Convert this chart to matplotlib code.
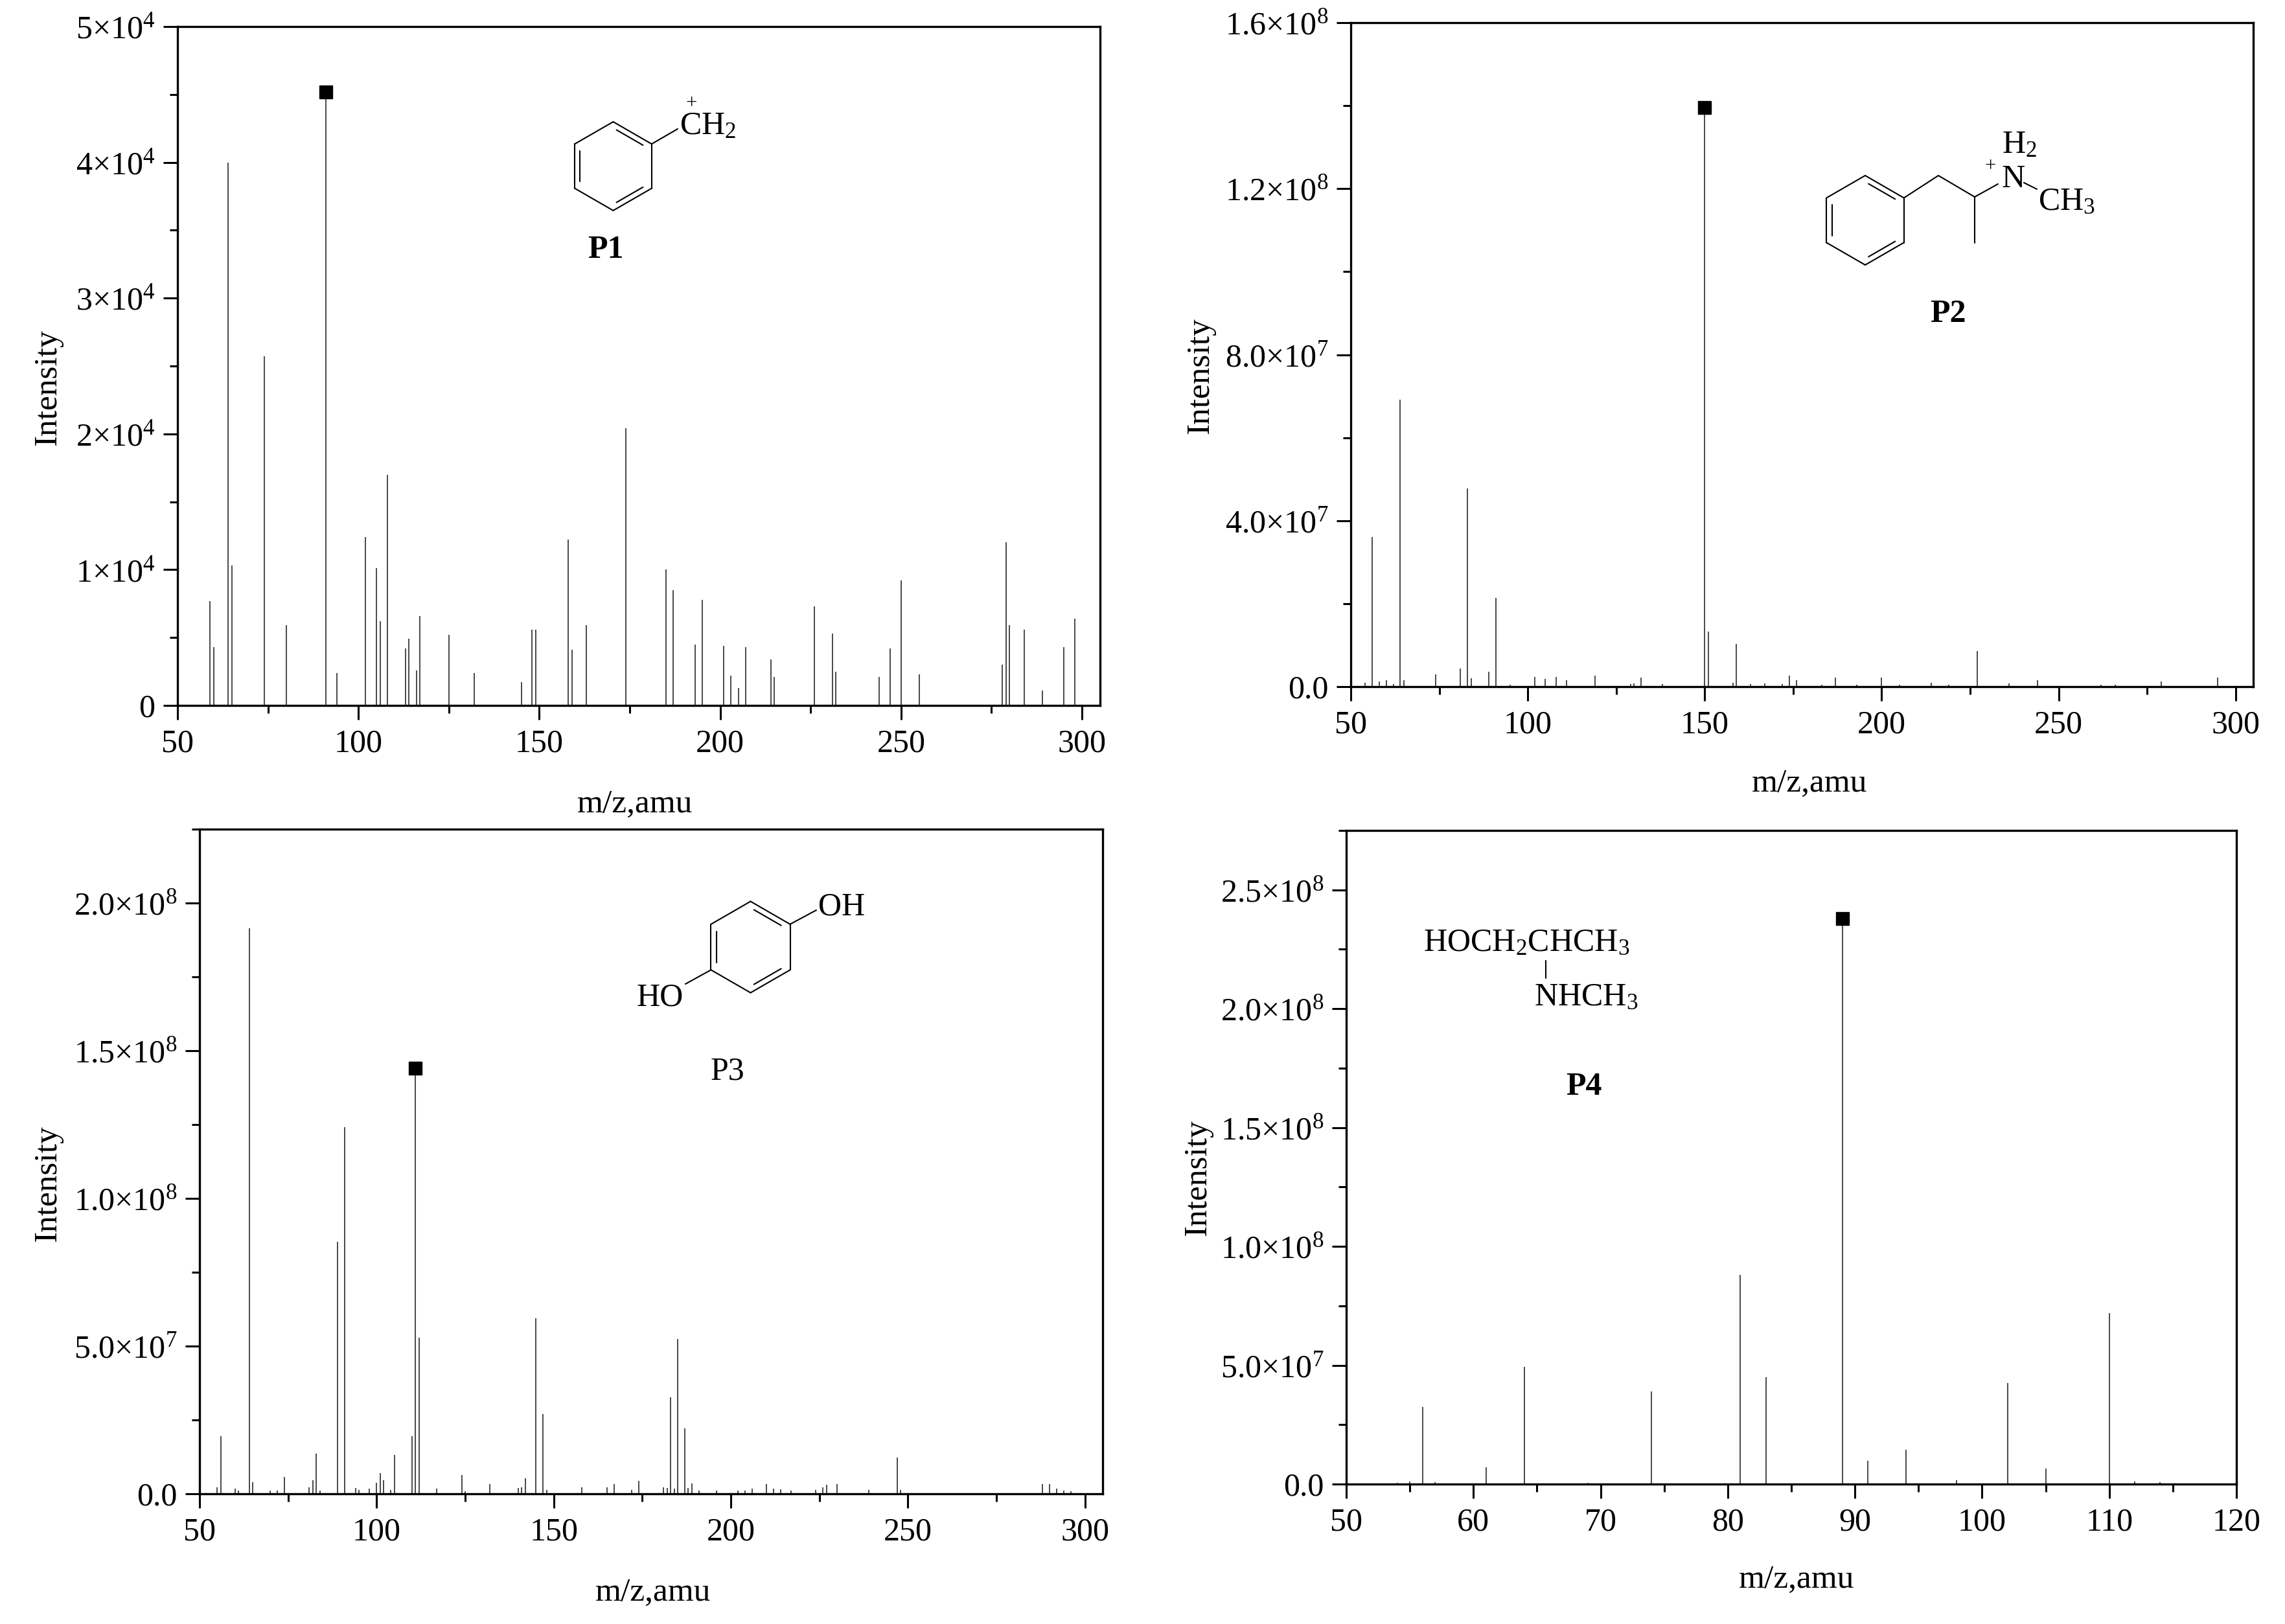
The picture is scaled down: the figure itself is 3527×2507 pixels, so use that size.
import matplotlib
matplotlib.use('Agg')
import matplotlib.pyplot as plt
import numpy as np
from matplotlib.ticker import MultipleLocator, FuncFormatter

plt.rcParams['font.family'] = ['Liberation Serif', 'DejaVu Serif']
plt.rcParams['mathtext.fontset'] = 'custom'
plt.rcParams['mathtext.rm'] = 'Liberation Serif'
plt.rcParams['mathtext.it'] = 'Liberation Serif:italic'
plt.rcParams['mathtext.bf'] = 'Liberation Serif:bold'

# ---- data (m/z, intensity) ----
mz1 = [59, 60, 64, 65, 74, 80, 91, 94, 102, 105,
       106, 108, 113, 114, 116, 117, 125, 132, 145, 148,
       149, 158, 159, 163, 174, 185, 187, 193, 195, 201,
       203, 205, 207, 214, 215, 226, 231, 232, 244, 247,
       250, 255, 278, 279, 280, 284, 289, 295, 298]
int1 = [7.7e3, 4.3e3, 4.0e4, 1.03e4, 2.57e4, 5.9e3, 4.52e4, 2.4e3, 1.24e4, 1.01e4,
        6.2e3, 1.70e4, 4.2e3, 4.9e3, 2.6e3, 6.6e3, 5.2e3, 2.4e3, 1.7e3, 5.6e3,
        5.6e3, 1.22e4, 4.1e3, 5.9e3, 2.04e4, 1.0e4, 8.5e3, 4.5e3, 7.8e3, 4.4e3,
        2.2e3, 1.3e3, 4.3e3, 3.4e3, 2.1e3, 7.3e3, 5.3e3, 2.5e3, 2.1e3, 4.2e3,
        9.2e3, 2.3e3, 3.0e3, 1.2e4, 5.9e3, 5.6e3, 1.1e3, 4.3e3, 6.4e3]

mz2 = [54, 56, 58, 60, 62, 64, 65, 74, 81, 83,
       84, 89, 91, 95, 102, 105, 108, 111, 119, 129,
       130, 132, 138, 150, 151, 158, 159, 163, 167, 172,
       174, 176, 183, 187, 193, 200, 205, 214, 219, 227,
       236, 244, 262, 266, 279, 295]
int2 = [1.0e6, 3.61e7, 1.2e6, 1.5e6, 0.6e6, 6.91e7, 1.5e6, 2.9e6, 4.4e6, 4.78e7,
        2.1e6, 3.6e6, 2.14e7, 0.5e6, 2.4e6, 1.9e6, 2.4e6, 1.5e6, 2.7e6, 0.6e6,
        0.8e6, 2.2e6, 0.6e6, 1.396e8, 1.33e7, 1.0e6, 1.03e7, 0.6e6, 0.8e6, 0.7e6,
        2.7e6, 1.6e6, 0.5e6, 2.2e6, 0.5e6, 2.2e6, 0.5e6, 1.0e6, 0.5e6, 8.6e6,
        0.8e6, 1.6e6, 0.4e6, 0.4e6, 1.2e6, 2.2e6]

mz3 = [55, 56, 60, 61, 64, 65, 70, 72, 74, 81,
       82, 83, 84, 89, 91, 94, 95, 98, 100, 101,
       102, 104, 105, 110, 111, 112, 117, 124, 125, 132,
       140, 141, 142, 145, 147, 148, 158, 165, 167, 172,
       174, 181, 182, 183, 184, 185, 187, 188, 189, 191,
       196, 202, 204, 206, 210, 212, 214, 217, 224, 226,
       227, 230, 239, 247, 248, 288, 290, 292, 294, 296]
int3 = [2.3e6, 1.95e7, 1.8e6, 1.0e6, 1.915e8, 3.9e6, 1.0e6, 1.2e6, 5.8e6, 2.3e6,
        4.6e6, 1.35e7, 1.0e6, 8.53e7, 1.242e8, 2.0e6, 1.4e6, 1.8e6, 3.7e6, 7.0e6,
        4.7e6, 1.4e6, 1.32e7, 1.95e7, 1.44e8, 5.28e7, 1.8e6, 6.3e6, 0.9e6, 3.2e6,
        1.9e6, 2.1e6, 5.3e6, 5.95e7, 2.69e7, 1.4e6, 2.1e6, 2.3e6, 3.2e6, 1.4e6,
        4.4e6, 2.3e6, 1.9e6, 3.27e7, 1.7e6, 5.24e7, 2.22e7, 1.9e6, 3.5e6, 1.1e6,
        1.1e6, 1.1e6, 1.1e6, 1.7e6, 3.3e6, 1.7e6, 1.6e6, 1.1e6, 1.4e6, 2.1e6,
        3.0e6, 3.3e6, 1.4e6, 1.23e7, 1.4e6, 3.3e6, 3.3e6, 1.8e6, 1.1e6, 0.9e6]

mz4 = [54, 55, 56, 57, 61, 64, 69, 74, 81, 83,
       89, 91, 94, 98, 102, 105, 110, 112, 114]
int4 = [0.6e6, 1.0e6, 3.24e7, 0.8e6, 7.2e6, 4.94e7, 0.6e6, 3.89e7, 8.79e7, 4.51e7,
        2.378e8, 9.8e6, 1.44e7, 1.7e6, 4.24e7, 6.6e6, 7.2e7, 1.1e6, 0.7e6]

# m/z of the peak flagged with a square in each panel
marked = [91, 150, 111, 89]

xlims = [(50, 305), (50, 305), (50, 305), (50, 120)]
ylims = [(0, 5e4), (0, 1.6e8), (0, 2.25e8), (0, 2.75e8)]
xsteps = [(50, 25), (50, 25), (50, 25), (10, 5)]
ysteps = [(1e4, 5e3), (4e7, 2e7), (5e7, 2.5e7), (5e7, 2.5e7)]

W, H = 3527, 2507
fig = plt.figure(figsize=(W / 100, H / 100), dpi=100)

# axes boxes in pixels: left, right, top, bottom
boxes = [(274, 1698, 41, 1089), (2085, 3478, 35, 1060),
         (308, 1702, 1280, 2306), (2078, 3452, 1282, 2291)]


def fmt_int(v, pos):
    if abs(v) < 1e-6:
        return '0'
    if v < 0:
        return ''
    e = int(np.floor(np.log10(v) + 1e-9))
    return '%d×10$^{%d}$' % (round(v / 10 ** e), e)


def fmt_dec(v, pos):
    if abs(v) < 1e-6:
        return '0.0'
    if v < 0:
        return ''
    e = int(np.floor(np.log10(v) + 1e-9))
    return '%.1f×10$^{%d}$' % (v / 10 ** e, e)


formatters = [fmt_int, fmt_dec, fmt_dec, fmt_dec]
spectra = [(mz1, int1), (mz2, int2), (mz3, int3), (mz4, int4)]

for i, (l, r, t, b) in enumerate(boxes):
    ax = fig.add_axes([l / W, 1 - b / H, (r - l) / W, (b - t) / H])
    mz, inten = spectra[i]
    ax.vlines(mz, 0, inten, colors='#3a3a3a', linewidth=1.3)
    k = mz.index(marked[i])
    ax.plot([mz[k]], [inten[k]], 's', color='black', markersize=14)
    ax.set_xlim(*xlims[i])
    ax.set_ylim(*ylims[i])
    ax.xaxis.set_major_locator(MultipleLocator(xsteps[i][0]))
    ax.xaxis.set_minor_locator(MultipleLocator(xsteps[i][1]))
    ax.yaxis.set_major_locator(MultipleLocator(ysteps[i][0]))
    ax.yaxis.set_minor_locator(MultipleLocator(ysteps[i][1]))
    ax.yaxis.set_major_formatter(FuncFormatter(formatters[i]))
    for s in ax.spines.values():
        s.set_linewidth(2.4)
    ax.tick_params(which='both', direction='out', width=2.2, top=False, right=False)
    ax.tick_params(which='major', length=16, labelsize=36)
    ax.tick_params(which='minor', length=8.5)
    ax.tick_params(axis='x', which='major', pad=10)
    ax.tick_params(axis='y', which='major', pad=9)

# overlay in pixel coordinates for labels and structure drawings
ov = fig.add_axes([0, 0, 1, 1])
ov.set_xlim(0, W)
ov.set_ylim(H, 0)
ov.axis('off')

LW = 1.5
FS = 36


def bond(p, q):
    ov.plot([p[0], q[0]], [p[1], q[1]], color='black', lw=LW, solid_capstyle='round')


def benzene(cx, cy, R):
    ang = np.radians([90, 30, -30, -90, -150, 150])
    pts = [(cx + R * np.cos(a), cy - R * np.sin(a)) for a in ang]
    for j in range(6):
        p, q = pts[j], pts[(j + 1) % 6]
        bond(p, q)
        if j % 2 == 0:
            # inner line of the double bond
            p2 = (cx + (p[0] - cx) * 0.86, cy + (p[1] - cy) * 0.86)
            q2 = (cx + (q[0] - cx) * 0.86, cy + (q[1] - cy) * 0.86)
            sp = (p2[0] + (q2[0] - p2[0]) * 0.1, p2[1] + (q2[1] - p2[1]) * 0.1)
            sq = (q2[0] - (q2[0] - p2[0]) * 0.1, q2[1] - (q2[1] - p2[1]) * 0.1)
            bond(sp, sq)
    return pts


def txt(x, y, s, ha='left', va='baseline', size=FS, **kw):
    ov.text(x, y, s, ha=ha, va=va, fontsize=size, color='black', **kw)


# P1: benzyl cation
pts = benzene(946.5, 256.5, 68.5)
bond(pts[1], (1046, 199))
txt(1049, 207, 'CH$_2$')
txt(1067, 160, '+', ha='center', va='center', size=22)
txt(935, 386, 'P1', ha='center', va='center', weight='bold')

# P2
pts = benzene(2879, 340, 69)
c1 = (2992, 271)
c2 = (3048, 304)
bond(pts[1], c1)
bond(c1, c2)
bond(c2, (3048, 375))
bond(c2, (3084, 284))
txt(3089, 289, 'N')
txt(3072, 257, '+', ha='center', va='center', size=22)
txt(3090, 236, 'H$_2$')
bond((3124, 282), (3144, 292))
txt(3146, 324, 'CH$_3$')
txt(3007, 485, 'P2', ha='center', va='center', weight='bold')

# P3: hydroquinone
pts = benzene(1158.5, 1462, 70.5)
bond(pts[1], (1260, 1405))
txt(1263, 1412, 'OH')
bond(pts[4], (1058, 1519))
txt(1055, 1552, 'HO', ha='right')
txt(1123, 1654, 'P3', ha='center', va='center')

# P4
txt(2197, 1468, 'HOCH$_2$CHCH$_3$')
bond((2386, 1483), (2386, 1510))
txt(2368, 1552, 'NHCH$_3$')
txt(2445, 1678, 'P4', ha='center', va='center', weight='bold')

# axis titles
ylab_pos = [(74, 598), (1853, 580), (74, 1827), (1849, 1818)]
xlab_pos = [(980, 1242), (2793, 1210), (1008, 2459), (2773, 2439)]
for (x, y) in ylab_pos:
    txt(x, y, 'Intensity', ha='center', va='center', rotation=90, size=37)
for (x, y) in xlab_pos:
    txt(x, y, 'm/z,amu', ha='center', va='center', size=37)

fig.savefig('out.png', dpi=100)
